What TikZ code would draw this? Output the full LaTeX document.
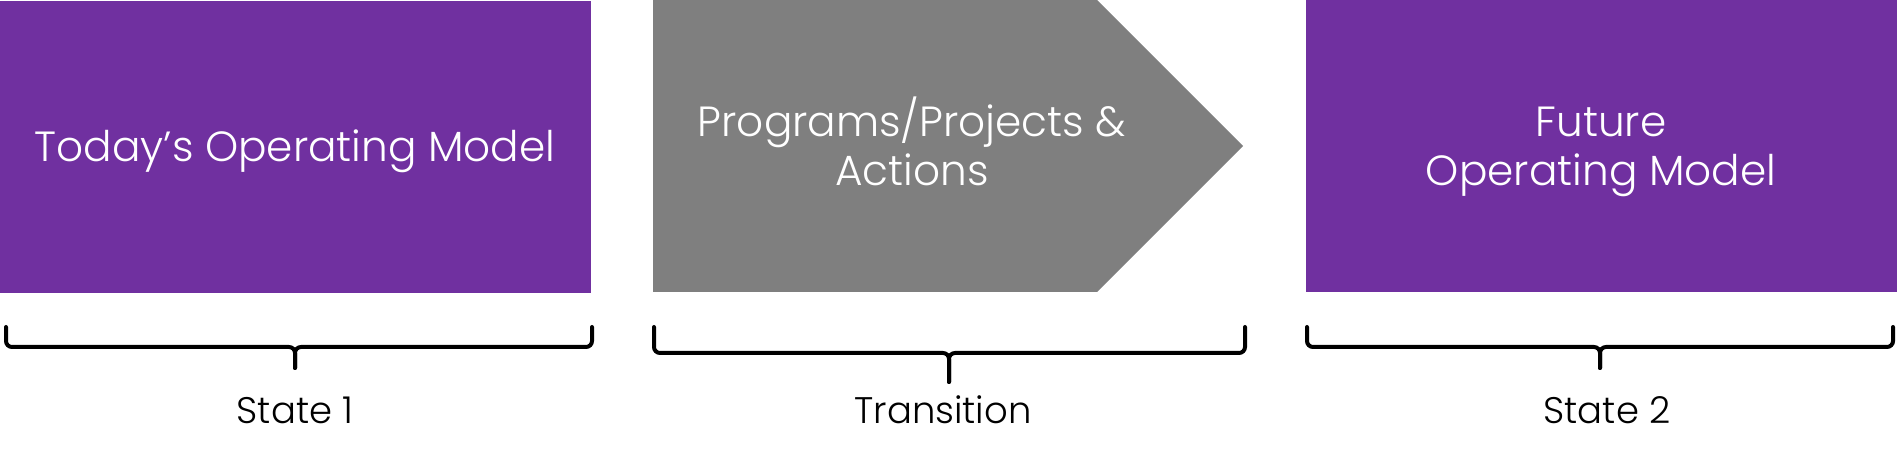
\documentclass[tikz,border=0pt]{standalone}
\usepackage{fontspec}
\setmainfont{Poppins Light}
\definecolor{purplefill}{HTML}{7030A0}
\definecolor{grayfill}{HTML}{7F7F7F}
\tikzset{
  boxtext/.style={text=white, inner sep=0pt, anchor=base, font=\fontsize{21.1}{24.5}\selectfont},
  labeltext/.style={text=black, inner sep=0pt, anchor=base, font=\fontsize{18.5}{22}\selectfont},
  bracket/.style={draw=black, line width=2pt, rounded corners=3pt, line cap=round},
}
\begin{document}
\begin{tikzpicture}[x=0.5pt, y=-0.5pt]
\useasboundingbox (0,0) rectangle (1897,458);
% shapes
\fill[purplefill] (0,1) rectangle (591,293);
\fill[grayfill] (653,0) -- (1097,0) -- (1243,146) -- (1097,292) -- (653,292) -- cycle;
\fill[purplefill] (1306,0) rectangle (1897,292);
% texts in shapes
\node[boxtext] (today) at (295,162) {Today’s Operating Model};
\node[boxtext] (prog1) at (912,137) {Programs/Projects \&};
\node[boxtext] (prog2) at (912,186) {Actions};
\node[boxtext] (fut1) at (1601,137) {Future};
\node[boxtext] (fut2) at (1601,186) {Operating Model};
% braces
\coordinate (b1l) at (6,327);  \coordinate (b1r) at (592,327); \coordinate (b1t) at (295,368);
\coordinate (b2l) at (654,327); \coordinate (b2r) at (1245,327); \coordinate (b2t) at (949,382);
\coordinate (b3l) at (1307,327); \coordinate (b3r) at (1893,327); \coordinate (b3t) at (1600,368);
\draw[bracket] (b1l) |- (295,347) -- (b1t);
\draw[bracket] (b1r) |- (295,347) -- (b1t);
\draw[bracket] (b2l) |- (949,353) -- (b2t);
\draw[bracket] (b2r) |- (949,353) -- (b2t);
\draw[bracket] (b3l) |- (1600,347) -- (b3t);
\draw[bracket] (b3r) |- (1600,347) -- (b3t);
% labels
\node[labeltext] (state1) at (295,424) {State 1};
\node[labeltext] (trans) at (943,424) {Transition};
\node[labeltext] (state2) at (1607,424) {State 2};
\end{tikzpicture}
\end{document}
